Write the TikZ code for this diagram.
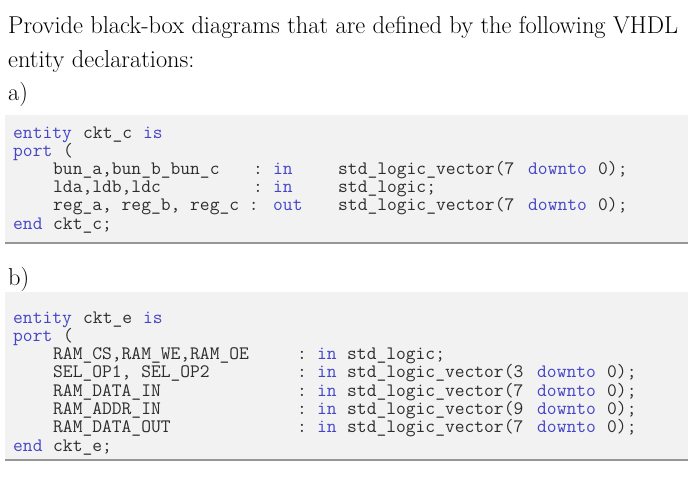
\documentclass[tikz,border=0pt]{standalone}
\usepackage{fontspec}
\definecolor{kw}{RGB}{68,68,200}
\definecolor{code}{RGB}{45,45,45}
\definecolor{boxbg}{RGB}{242,242,242}
\definecolor{rule}{RGB}{150,150,150}
\begin{document}
\begin{tikzpicture}[x=1pt,y=-1pt,
  txt/.style={anchor=base west,inner sep=0pt,font=\fontsize{24.4}{26}\selectfont},
  cd/.style={anchor=base west,inner sep=0pt,text=code,font=\ttfamily\fontsize{19}{20}\selectfont},
  k/.style={cd,text=kw},
  codebox/.style={fill=boxbg,draw=none}]
\useasboundingbox (0,0) rectangle (700,478);
\node[txt] (t1) at (8,34) {Provide black-box diagrams that are defined by the following VHDL};
\node[txt] (t2) at (8,68) {entity declarations:};
\node[txt] (ta) at (8,101) {a)};
\fill[codebox] (5,115) rectangle (688,243);
\draw[rule,line width=1.2pt] (5,243) -- (688,243);
\node[k] (a1) at (13,139) {entity};
\node[cd] (a1b) at (83,139) {ckt\_c};
\node[k] (a1c) at (143,139) {is};
\node[k] (a2) at (13,157) {port};
\node[cd] (a2b) at (63,157) {(};
\node[cd] (a3) at (53,175) {bun\_a,bun\_b\_bun\_c};
\node[cd] (a3b) at (253,175) {:};
\node[k] (a3c) at (273,175) {in};
\node[cd] (a3d) at (338,175) {std\_logic\_vector(7};
\node[k] (a3e) at (528,175) {downto};
\node[cd] (a3f) at (598,175) {0);};
\node[cd] (a4) at (53,193) {lda,ldb,ldc};
\node[cd] (a4b) at (253,193) {:};
\node[k] (a4c) at (273,193) {in};
\node[cd] (a4d) at (338,193) {std\_logic;};
\node[cd] (a5) at (53,211) {reg\_a, reg\_b, reg\_c :};
\node[k] (a5c) at (273,211) {out};
\node[cd] (a5d) at (338,211) {std\_logic\_vector(7};
\node[k] (a5e) at (528,211) {downto};
\node[cd] (a5f) at (598,211) {0);};
\node[cd] (a6) at (53,229) {ckt\_c;};
\node[k] (a6k) at (13,229) {end};
\node[txt] (tb) at (8,285) {b)};
\fill[codebox] (5,292) rectangle (688,460);
\draw[rule,line width=1.2pt] (5,460) -- (688,460);
\node[k] (b1) at (13,323) {entity};
\node[cd] (b1b) at (83,323) {ckt\_e};
\node[k] (b1c) at (143,323) {is};
\node[k] (b2) at (13,341) {port};
\node[cd] (b2b) at (63,341) {(};
\node[cd] (b3) at (53,359) {RAM\_CS,RAM\_WE,RAM\_OE};
\node[cd] (b4) at (53,377) {SEL\_OP1, SEL\_OP2};
\node[cd] (b5) at (53,396) {RAM\_DATA\_IN};
\node[cd] (b6) at (53,414) {RAM\_ADDR\_IN};
\node[cd] (b7) at (53,432) {RAM\_DATA\_OUT};
\foreach \y/\r [count=\i] in {359/{std\_logic;},377/{std\_logic\_vector(3},396/{std\_logic\_vector(7},414/{std\_logic\_vector(9},432/{std\_logic\_vector(7}}{
  \node[cd] (c\i) at (297,\y) {:};
  \node[k] (i\i) at (317,\y) {in};
  \node[cd] (r\i) at (347,\y) {\r};
}
\foreach \y [count=\i] in {377,396,414,432}{
  \node[k] (d\i) at (537,\y) {downto};
  \node[cd] (z\i) at (607,\y) {0);};
}
\node[cd] (b8) at (53,451) {ckt\_e;};
\node[k] (b8k) at (13,451) {end};
\end{tikzpicture}
\end{document}
